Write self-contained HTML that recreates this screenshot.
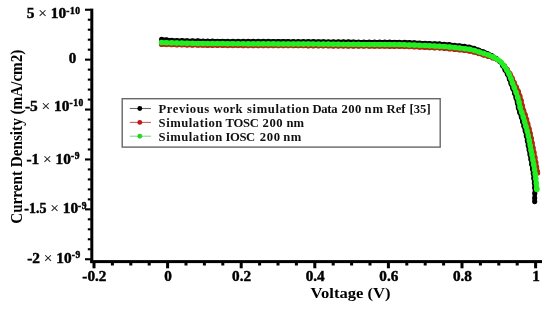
<!DOCTYPE html>
<html><head><meta charset="utf-8"><style>
html,body{margin:0;padding:0;background:#fff;}
svg{display:block;}
text{font-family:"Liberation Serif","Times New Roman",serif;font-weight:bold;fill:#000;}
.xt{font-size:14.5px;stroke:#000;stroke-width:0.45px;}
.yt{font-size:15px;stroke:#000;stroke-width:0.45px;}
.times{font-weight:normal;stroke-width:0.1px;}
.sup{font-size:9.3px;letter-spacing:0.6px;}
.xtitle{font-size:15.3px;}
.ytitle{font-size:16px;}
.lg{font-size:11.5px;fill:#111;}
</style></head><body>
<svg width="550" height="309" viewBox="0 0 550 309">
<rect width="550" height="309" fill="#fff"/>
<rect x="90.30" y="8.6" width="3" height="254.50" fill="#000"/>
<rect x="90.30" y="260.10" width="451.70" height="3" fill="#000"/>
<rect x="85" y="8.70" width="5.80" height="2.1" fill="#000"/>
<rect x="85" y="58.60" width="5.80" height="2.1" fill="#000"/>
<rect x="85" y="108.50" width="5.80" height="2.1" fill="#000"/>
<rect x="85" y="158.40" width="5.80" height="2.1" fill="#000"/>
<rect x="85" y="208.30" width="5.80" height="2.1" fill="#000"/>
<rect x="85" y="258.20" width="5.80" height="2.1" fill="#000"/>
<rect x="87.8" y="18.68" width="3.00" height="2.1" fill="#000"/>
<rect x="87.8" y="28.66" width="3.00" height="2.1" fill="#000"/>
<rect x="87.8" y="38.64" width="3.00" height="2.1" fill="#000"/>
<rect x="87.8" y="48.62" width="3.00" height="2.1" fill="#000"/>
<rect x="87.8" y="68.58" width="3.00" height="2.1" fill="#000"/>
<rect x="87.8" y="78.56" width="3.00" height="2.1" fill="#000"/>
<rect x="87.8" y="88.54" width="3.00" height="2.1" fill="#000"/>
<rect x="87.8" y="98.52" width="3.00" height="2.1" fill="#000"/>
<rect x="87.8" y="118.48" width="3.00" height="2.1" fill="#000"/>
<rect x="87.8" y="128.46" width="3.00" height="2.1" fill="#000"/>
<rect x="87.8" y="138.44" width="3.00" height="2.1" fill="#000"/>
<rect x="87.8" y="148.42" width="3.00" height="2.1" fill="#000"/>
<rect x="87.8" y="168.38" width="3.00" height="2.1" fill="#000"/>
<rect x="87.8" y="178.36" width="3.00" height="2.1" fill="#000"/>
<rect x="87.8" y="188.34" width="3.00" height="2.1" fill="#000"/>
<rect x="87.8" y="198.32" width="3.00" height="2.1" fill="#000"/>
<rect x="87.8" y="218.28" width="3.00" height="2.1" fill="#000"/>
<rect x="87.8" y="228.26" width="3.00" height="2.1" fill="#000"/>
<rect x="87.8" y="238.24" width="3.00" height="2.1" fill="#000"/>
<rect x="87.8" y="248.22" width="3.00" height="2.1" fill="#000"/>
<rect x="92.50" y="261.60" width="3" height="6.70" fill="#000"/>
<rect x="166.10" y="261.60" width="3" height="6.70" fill="#000"/>
<rect x="239.70" y="261.60" width="3" height="6.70" fill="#000"/>
<rect x="313.30" y="261.60" width="3" height="6.70" fill="#000"/>
<rect x="386.90" y="261.60" width="3" height="6.70" fill="#000"/>
<rect x="460.50" y="261.60" width="3" height="6.70" fill="#000"/>
<rect x="534.10" y="261.60" width="3" height="6.70" fill="#000"/>
<rect x="110.90" y="261.60" width="3" height="3.90" fill="#000"/>
<rect x="129.30" y="261.60" width="3" height="3.90" fill="#000"/>
<rect x="147.70" y="261.60" width="3" height="3.90" fill="#000"/>
<rect x="184.50" y="261.60" width="3" height="3.90" fill="#000"/>
<rect x="202.90" y="261.60" width="3" height="3.90" fill="#000"/>
<rect x="221.30" y="261.60" width="3" height="3.90" fill="#000"/>
<rect x="258.10" y="261.60" width="3" height="3.90" fill="#000"/>
<rect x="276.50" y="261.60" width="3" height="3.90" fill="#000"/>
<rect x="294.90" y="261.60" width="3" height="3.90" fill="#000"/>
<rect x="331.70" y="261.60" width="3" height="3.90" fill="#000"/>
<rect x="350.10" y="261.60" width="3" height="3.90" fill="#000"/>
<rect x="368.50" y="261.60" width="3" height="3.90" fill="#000"/>
<rect x="405.30" y="261.60" width="3" height="3.90" fill="#000"/>
<rect x="423.70" y="261.60" width="3" height="3.90" fill="#000"/>
<rect x="442.10" y="261.60" width="3" height="3.90" fill="#000"/>
<rect x="478.90" y="261.60" width="3" height="3.90" fill="#000"/>
<rect x="497.30" y="261.60" width="3" height="3.90" fill="#000"/>
<rect x="515.70" y="261.60" width="3" height="3.90" fill="#000"/>
<text transform="translate(94.40,281.3) scale(1.05,1)" class="xt" text-anchor="middle">-0.2</text>
<text transform="translate(168.00,281.3) scale(1.05,1)" class="xt" text-anchor="middle">0</text>
<text transform="translate(241.60,281.3) scale(1.05,1)" class="xt" text-anchor="middle">0.2</text>
<text transform="translate(315.20,281.3) scale(1.05,1)" class="xt" text-anchor="middle">0.4</text>
<text transform="translate(388.80,281.3) scale(1.05,1)" class="xt" text-anchor="middle">0.6</text>
<text transform="translate(462.40,281.3) scale(1.05,1)" class="xt" text-anchor="middle">0.8</text>
<text transform="translate(536.00,281.3) scale(1.05,1)" class="xt" text-anchor="middle">1</text>
<text transform="translate(26.8,17.9) scale(1.025,1)" class="yt"><tspan>5</tspan> <tspan class="times">×</tspan> 10<tspan class="sup" dy="-4.1">-10</tspan></text>
<text transform="translate(24.9,110.5) scale(1.025,1)" class="yt"><tspan>-5</tspan> <tspan class="times">×</tspan> 10<tspan class="sup" dy="-4.1">-10</tspan></text>
<text transform="translate(26.4,163.5) scale(1.025,1)" class="yt"><tspan>-1</tspan> <tspan class="times">×</tspan> 10<tspan class="sup" dy="-4.1">-9</tspan></text>
<text transform="translate(24.3,212.8) scale(1.025,1)" class="yt"><tspan style="font-size:13.6px">-1.5</tspan> <tspan class="times">×</tspan> 10<tspan class="sup" dy="-4.1">-9</tspan></text>
<text transform="translate(27.2,262.5) scale(1.025,1)" class="yt"><tspan>-2</tspan> <tspan class="times">×</tspan> 10<tspan class="sup" dy="-4.1">-9</tspan></text>
<text x="76.3" y="62.9" class="yt" text-anchor="end">0</text>
<text x="310.6" y="298.2" class="xtitle" textLength="80" lengthAdjust="spacingAndGlyphs">Voltage (V)</text>
<text transform="translate(21.6,223.8) rotate(-90)" class="ytitle" textLength="174.2" lengthAdjust="spacingAndGlyphs">Current Density (mA/cm2)</text>
<path d="M161.57,39.43 L162.99,39.53 L164.69,39.66 L166.62,39.81 L167.67,39.89 L168.77,39.98 L169.92,40.07 L171.12,40.16 L172.36,40.26 L173.64,40.36 L174.95,40.46 L176.30,40.49 L177.68,40.53 L179.09,40.56 L180.52,40.59 L181.98,40.62 L183.45,40.66 L184.94,40.69 L186.44,40.72 L187.95,40.75 L189.47,40.78 L190.99,40.81 L192.52,40.84 L194.04,40.87 L195.55,40.89 L197.06,40.92 L198.55,40.94 L200.03,40.96 L201.52,40.98 L203.03,41.00 L204.56,41.02 L206.12,41.04 L207.69,41.06 L209.29,41.08 L210.90,41.10 L212.53,41.11 L214.18,41.13 L215.84,41.15 L217.51,41.16 L219.19,41.18 L220.89,41.19 L222.59,41.21 L224.30,41.22 L226.02,41.23 L227.74,41.25 L229.46,41.26 L231.19,41.27 L232.92,41.28 L234.65,41.30 L236.38,41.31 L238.11,41.32 L239.83,41.33 L241.55,41.34 L243.26,41.35 L244.96,41.36 L246.66,41.37 L248.34,41.38 L250.01,41.39 L251.68,41.40 L253.34,41.41 L255.01,41.41 L256.67,41.42 L258.34,41.42 L260.01,41.43 L261.67,41.43 L263.34,41.44 L265.00,41.44 L266.67,41.44 L268.34,41.44 L270.00,41.45 L271.67,41.45 L273.33,41.45 L275.00,41.45 L276.67,41.45 L278.33,41.46 L280.00,41.46 L281.67,41.46 L283.34,41.46 L285.00,41.46 L286.67,41.47 L288.34,41.47 L290.01,41.48 L291.67,41.48 L293.34,41.49 L295.01,41.49 L296.68,41.50 L298.34,41.51 L300.01,41.51 L301.68,41.52 L303.35,41.53 L305.01,41.55 L306.68,41.56 L308.35,41.57 L310.02,41.58 L311.68,41.60 L313.35,41.61 L315.02,41.62 L316.69,41.64 L318.35,41.65 L320.02,41.67 L321.69,41.68 L323.35,41.70 L325.02,41.72 L326.69,41.73 L328.35,41.75 L330.02,41.76 L331.69,41.78 L333.35,41.79 L335.02,41.81 L336.69,41.83 L338.35,41.84 L340.02,41.86 L341.69,41.87 L343.35,41.89 L345.02,41.90 L346.68,41.91 L348.35,41.93 L350.02,41.94 L351.69,41.95 L353.39,41.96 L355.10,41.97 L356.83,41.98 L358.57,41.99 L360.33,42.00 L362.09,42.00 L363.86,42.01 L365.64,42.02 L367.41,42.02 L369.19,42.03 L370.97,42.04 L372.74,42.04 L374.50,42.05 L376.26,42.05 L378.00,42.06 L379.73,42.07 L381.45,42.08 L383.15,42.09 L384.83,42.10 L386.48,42.11 L388.12,42.12 L389.72,42.13 L391.30,42.15 L392.85,42.16 L394.36,42.18 L395.84,42.20 L397.28,42.22 L398.68,42.24 L400.04,42.27 L401.37,42.29 L402.67,42.32 L403.95,42.36 L405.20,42.39 L406.42,42.43 L407.63,42.46 L408.81,42.50 L409.96,42.54 L411.09,42.59 L412.20,42.63 L413.29,42.67 L414.36,42.72 L415.40,42.77 L416.42,42.81 L417.91,42.88 L419.83,42.98 L421.67,43.07 L423.43,43.16 L425.11,43.25 L426.73,43.33 L428.27,43.40 L429.74,43.47 L431.13,43.53 L432.38,43.58 L433.51,43.62 L434.77,43.67 L436.10,43.72 L437.29,43.77 L438.37,43.81 L439.41,43.86 L440.45,43.92 L441.55,43.98 L442.74,44.06 L444.05,44.16 L445.35,44.27 L446.65,44.39 L447.95,44.51 L449.24,44.64 L450.54,44.78 L451.84,44.92 L453.15,45.06 L454.47,45.21 L455.80,45.36 L457.16,45.51 L458.56,45.66 L460.00,45.81 L461.47,45.96 L462.95,46.12 L464.42,46.28 L465.87,46.48 L467.29,46.73 L468.66,46.99 L469.96,47.27 L471.19,47.55 L472.34,47.86 L473.43,48.17 L474.47,48.49 L475.46,48.82 L476.73,49.27 L477.97,49.72 L479.21,50.18 L480.16,50.53 L481.16,50.89 L482.21,51.28 L483.29,51.68 L484.38,52.09 L485.46,52.50 L486.50,52.98 L487.50,53.44 L488.44,53.88 L489.57,54.43 L490.64,54.96 L491.61,55.48 L492.52,56.04 L493.40,56.66 L494.28,57.27 L495.18,57.86 L496.07,58.45 L497.00,59.06 L497.92,59.71 L498.75,60.43 L499.48,61.15 L500.12,61.89 L500.84,62.82 L501.51,63.77 L502.14,64.74 L502.74,65.69 L503.30,66.62 L503.81,67.55 L504.29,68.48 L504.76,69.43 L505.29,70.34 L505.81,71.23 L506.30,72.11 L506.77,72.98 L507.21,73.86 L507.64,74.75 L508.04,75.66 L508.41,76.59 L508.78,77.54 L509.15,78.54 L509.52,79.56 L509.90,80.59 L510.26,81.64 L510.63,82.74 L510.99,83.78 L511.35,84.78 L511.73,85.81 L512.13,86.85 L512.55,87.90 L512.97,88.98 L513.40,90.11 L513.74,91.06 L514.09,92.08 L514.46,93.18 L514.84,94.34 L515.23,95.54 L515.61,96.77 L515.99,98.01 L516.35,99.24 L516.68,100.44 L516.98,101.62 L517.25,102.83 L517.51,104.07 L517.77,105.32 L518.02,106.57 L518.29,107.79 L518.58,108.99 L518.89,110.13 L519.26,111.30 L519.66,112.38 L520.05,113.41 L520.45,114.48 L520.81,115.56 L521.12,116.56 L521.48,117.77 L521.88,119.15 L522.18,120.14 L522.48,121.19 L522.79,122.27 L523.12,123.40 L523.44,124.54 L523.77,125.71 L524.09,126.88 L524.41,128.05 L524.72,129.22 L525.02,130.37 L525.30,131.49 L525.57,132.58 L525.82,133.64 L526.06,134.71 L526.30,135.79 L526.52,136.87 L526.74,137.95 L526.96,139.04 L527.17,140.12 L527.37,141.20 L527.58,142.29 L527.78,143.36 L527.97,144.43 L528.17,145.49 L528.37,146.54 L528.56,147.58 L528.76,148.61 L528.96,149.62 L529.15,150.62 L529.39,151.85 L529.67,153.30 L529.95,154.73 L530.22,156.14 L530.49,157.54 L530.75,158.92 L531.01,160.30 L531.25,161.67 L531.50,163.03 L531.73,164.40 L531.96,165.74 L532.19,167.07 L532.41,168.39 L532.63,169.70 L532.83,171.01 L533.03,172.31 L533.22,173.62 L533.40,174.93 L533.58,176.24 L533.74,177.62 L533.88,178.85 L533.98,179.87 L534.08,180.91 L534.18,181.95 L534.28,182.99 L534.37,184.01 L534.48,185.23 L534.60,186.60 L534.70,187.83 L534.81,189.02 L534.83,190.76 L534.79,193.16 L534.75,195.56 L534.71,197.96 L534.67,200.36 L534.65,201.56" fill="none" stroke="#000000" stroke-width="4.2" stroke-linecap="round" stroke-linejoin="round"/>
<g fill="#000000"><circle cx="161.6" cy="39.4" r="2.55"/><circle cx="166.6" cy="39.8" r="2.55"/><circle cx="171.7" cy="40.2" r="2.55"/><circle cx="177.0" cy="40.5" r="2.55"/><circle cx="182.0" cy="40.6" r="2.55"/><circle cx="187.2" cy="40.7" r="2.55"/><circle cx="192.5" cy="40.8" r="2.55"/><circle cx="197.8" cy="40.9" r="2.55"/><circle cx="203.0" cy="41.0" r="2.55"/><circle cx="207.7" cy="41.1" r="2.55"/><circle cx="212.5" cy="41.1" r="2.55"/><circle cx="217.5" cy="41.2" r="2.55"/><circle cx="222.6" cy="41.2" r="2.55"/><circle cx="227.7" cy="41.2" r="2.55"/><circle cx="232.9" cy="41.3" r="2.55"/><circle cx="238.1" cy="41.3" r="2.55"/><circle cx="243.3" cy="41.4" r="2.55"/><circle cx="248.3" cy="41.4" r="2.55"/><circle cx="253.3" cy="41.4" r="2.55"/><circle cx="258.3" cy="41.4" r="2.55"/><circle cx="263.3" cy="41.4" r="2.55"/><circle cx="268.3" cy="41.4" r="2.55"/><circle cx="273.3" cy="41.5" r="2.55"/><circle cx="278.3" cy="41.5" r="2.55"/><circle cx="283.3" cy="41.5" r="2.55"/><circle cx="288.3" cy="41.5" r="2.55"/><circle cx="293.3" cy="41.5" r="2.55"/><circle cx="298.3" cy="41.5" r="2.55"/><circle cx="303.3" cy="41.5" r="2.55"/><circle cx="308.3" cy="41.6" r="2.55"/><circle cx="313.4" cy="41.6" r="2.55"/><circle cx="318.4" cy="41.7" r="2.55"/><circle cx="323.4" cy="41.7" r="2.55"/><circle cx="328.4" cy="41.7" r="2.55"/><circle cx="333.4" cy="41.8" r="2.55"/><circle cx="338.4" cy="41.8" r="2.55"/><circle cx="343.4" cy="41.9" r="2.55"/><circle cx="348.4" cy="41.9" r="2.55"/><circle cx="353.4" cy="42.0" r="2.55"/><circle cx="358.6" cy="42.0" r="2.55"/><circle cx="363.9" cy="42.0" r="2.55"/><circle cx="369.2" cy="42.0" r="2.55"/><circle cx="374.5" cy="42.0" r="2.55"/><circle cx="379.7" cy="42.1" r="2.55"/><circle cx="384.8" cy="42.1" r="2.55"/><circle cx="389.7" cy="42.1" r="2.55"/><circle cx="394.4" cy="42.2" r="2.55"/><circle cx="399.4" cy="42.3" r="2.55"/><circle cx="404.6" cy="42.4" r="2.55"/><circle cx="409.4" cy="42.5" r="2.55"/><circle cx="414.4" cy="42.7" r="2.55"/><circle cx="419.8" cy="43.0" r="2.55"/><circle cx="425.1" cy="43.2" r="2.55"/><circle cx="429.7" cy="43.5" r="2.55"/><circle cx="434.8" cy="43.7" r="2.55"/><circle cx="439.4" cy="43.9" r="2.55"/><circle cx="444.0" cy="44.2" r="2.55"/><circle cx="449.2" cy="44.6" r="2.55"/><circle cx="454.5" cy="45.2" r="2.55"/><circle cx="459.3" cy="45.7" r="2.55"/><circle cx="464.4" cy="46.3" r="2.55"/><circle cx="469.3" cy="47.1" r="2.55"/><circle cx="474.0" cy="48.3" r="2.55"/><circle cx="478.6" cy="50.0" r="2.55"/><circle cx="483.3" cy="51.7" r="2.55"/><circle cx="488.0" cy="53.7" r="2.55"/><circle cx="492.1" cy="55.8" r="2.55"/><circle cx="496.1" cy="58.4" r="2.55"/><circle cx="499.8" cy="61.5" r="2.55"/><circle cx="502.7" cy="65.7" r="2.55"/><circle cx="505.0" cy="69.9" r="2.55"/><circle cx="507.4" cy="74.3" r="2.55"/><circle cx="509.3" cy="79.0" r="2.55"/><circle cx="511.0" cy="83.8" r="2.55"/><circle cx="512.8" cy="88.4" r="2.55"/><circle cx="514.5" cy="93.2" r="2.55"/><circle cx="516.0" cy="98.0" r="2.55"/><circle cx="517.3" cy="102.8" r="2.55"/><circle cx="518.3" cy="107.8" r="2.55"/><circle cx="519.7" cy="112.4" r="2.55"/><circle cx="521.3" cy="117.1" r="2.55"/><circle cx="522.6" cy="121.7" r="2.55"/><circle cx="523.9" cy="126.3" r="2.55"/><circle cx="525.2" cy="130.9" r="2.55"/><circle cx="526.3" cy="135.8" r="2.55"/><circle cx="527.3" cy="140.7" r="2.55"/><circle cx="528.2" cy="145.5" r="2.55"/><circle cx="529.1" cy="150.1" r="2.55"/><circle cx="530.0" cy="154.7" r="2.55"/><circle cx="530.9" cy="159.6" r="2.55"/><circle cx="531.7" cy="164.4" r="2.55"/><circle cx="532.5" cy="169.0" r="2.55"/><circle cx="533.2" cy="173.6" r="2.55"/><circle cx="533.8" cy="178.4" r="2.55"/><circle cx="534.3" cy="183.0" r="2.55"/><circle cx="534.7" cy="187.8" r="2.55"/><circle cx="534.8" cy="193.2" r="2.55"/><circle cx="534.7" cy="198.0" r="2.55"/><circle cx="534.7" cy="201.6" r="2.55"/></g>
<path d="M161.46,44.50 L162.88,44.53 L164.57,44.57 L166.51,44.61 L167.56,44.64 L168.66,44.67 L169.81,44.69 L171.01,44.72 L172.25,44.75 L173.53,44.78 L174.85,44.81 L176.20,44.84 L177.58,44.87 L178.99,44.91 L180.43,44.94 L181.88,44.97 L183.36,45.00 L184.85,45.03 L186.35,45.06 L187.87,45.09 L189.39,45.12 L190.91,45.15 L192.44,45.18 L193.96,45.21 L195.48,45.23 L196.99,45.26 L198.49,45.28 L199.97,45.30 L201.46,45.32 L202.98,45.34 L204.51,45.36 L206.07,45.38 L207.65,45.39 L209.24,45.41 L210.86,45.43 L212.49,45.44 L214.14,45.46 L215.80,45.47 L217.47,45.49 L219.16,45.50 L220.85,45.52 L222.56,45.53 L224.27,45.54 L225.98,45.56 L227.71,45.57 L229.44,45.58 L231.16,45.59 L232.90,45.60 L234.63,45.61 L236.36,45.63 L238.08,45.64 L239.81,45.65 L241.52,45.66 L243.23,45.66 L244.94,45.67 L246.63,45.68 L248.32,45.69 L249.99,45.70 L251.66,45.71 L253.33,45.71 L254.99,45.72 L256.66,45.73 L258.33,45.73 L260.00,45.73 L261.66,45.74 L263.33,45.74 L265.00,45.74 L266.66,45.74 L268.33,45.75 L270.00,45.75 L271.67,45.75 L273.33,45.75 L275.00,45.75 L276.67,45.75 L278.33,45.75 L280.00,45.75 L281.67,45.75 L283.33,45.76 L285.00,45.76 L286.66,45.76 L288.33,45.76 L290.00,45.77 L291.66,45.77 L293.33,45.77 L294.99,45.78 L296.66,45.79 L298.32,45.79 L299.99,45.80 L301.66,45.81 L303.32,45.82 L304.99,45.83 L306.65,45.84 L308.32,45.85 L309.99,45.86 L311.65,45.87 L313.32,45.89 L314.98,45.90 L316.65,45.91 L318.32,45.93 L319.98,45.94 L321.65,45.96 L323.32,45.97 L324.98,45.99 L326.65,46.00 L328.32,46.02 L329.98,46.03 L331.65,46.05 L333.32,46.06 L334.98,46.08 L336.65,46.09 L338.32,46.11 L339.98,46.12 L341.65,46.14 L343.32,46.15 L344.99,46.16 L346.65,46.18 L348.32,46.19 L349.99,46.20 L351.67,46.21 L353.36,46.22 L355.08,46.23 L356.81,46.24 L358.56,46.25 L360.31,46.25 L362.08,46.26 L363.85,46.26 L365.62,46.27 L367.40,46.27 L369.18,46.28 L370.95,46.28 L372.73,46.29 L374.49,46.29 L376.24,46.30 L377.99,46.31 L379.72,46.31 L381.43,46.32 L383.13,46.33 L384.80,46.34 L386.46,46.35 L388.09,46.36 L389.69,46.37 L391.26,46.38 L392.80,46.40 L394.31,46.42 L395.78,46.43 L397.22,46.45 L398.61,46.48 L399.96,46.50 L401.28,46.53 L402.57,46.55 L403.84,46.59 L405.08,46.62 L406.30,46.65 L407.49,46.69 L408.66,46.73 L409.81,46.77 L410.93,46.81 L412.04,46.85 L413.12,46.90 L414.17,46.94 L415.21,46.99 L416.23,47.03 L417.71,47.10 L419.62,47.19 L421.46,47.29 L423.22,47.38 L424.90,47.46 L426.52,47.54 L428.07,47.62 L429.56,47.68 L430.96,47.74 L432.22,47.79 L433.35,47.84 L434.61,47.88 L435.95,47.93 L437.12,47.98 L438.19,48.02 L439.20,48.07 L440.21,48.12 L441.28,48.19 L442.44,48.26 L443.72,48.36 L444.99,48.46 L446.27,48.58 L447.54,48.70 L448.82,48.83 L450.10,48.96 L451.39,49.10 L452.69,49.24 L454.01,49.39 L455.34,49.54 L456.71,49.69 L458.13,49.84 L459.57,49.99 L461.03,50.14 L462.49,50.29 L463.94,50.45 L465.36,50.62 L466.73,50.78 L468.04,50.96 L469.27,51.15 L470.41,51.36 L471.49,51.58 L472.51,51.82 L473.48,52.07 L474.42,52.32 L475.66,52.69 L476.89,53.07 L478.16,53.47 L479.14,53.77 L480.16,54.07 L481.21,54.40 L482.29,54.74 L483.38,55.09 L484.47,55.44 L485.57,55.70 L486.62,55.95 L487.61,56.20 L488.80,56.51 L489.90,56.81 L490.87,57.11 L491.77,57.45 L492.70,57.88 L493.70,58.34 L494.70,58.76 L495.69,59.17 L496.70,59.61 L497.70,60.07 L498.65,60.57 L499.51,61.11 L500.30,61.70 L501.20,62.48 L502.05,63.31 L502.89,64.13 L503.69,64.95 L504.46,65.78 L505.17,66.63 L505.85,67.50 L506.49,68.36 L507.12,69.22 L507.74,70.07 L508.34,70.93 L508.92,71.80 L509.49,72.69 L510.03,73.61 L510.54,74.56 L511.01,75.52 L511.48,76.49 L511.94,77.46 L512.42,78.46 L512.89,79.49 L513.36,80.54 L513.82,81.60 L514.26,82.59 L514.69,83.52 L515.14,84.47 L515.63,85.43 L516.14,86.43 L516.68,87.49 L517.23,88.63 L517.68,89.62 L518.14,90.65 L518.58,91.75 L518.99,92.94 L519.40,94.17 L519.81,95.43 L520.21,96.71 L520.60,97.99 L520.96,99.26 L521.30,100.54 L521.61,101.84 L521.89,103.13 L522.16,104.39 L522.42,105.62 L522.67,106.78 L522.94,107.87 L523.20,108.85 L523.52,109.84 L523.87,110.79 L524.27,111.82 L524.70,112.99 L525.10,114.18 L525.43,115.25 L525.80,116.49 L526.21,117.87 L526.50,118.87 L526.81,119.93 L527.13,121.02 L527.45,122.15 L527.78,123.31 L528.12,124.49 L528.44,125.68 L528.77,126.88 L529.09,128.06 L529.39,129.24 L529.69,130.39 L529.96,131.52 L530.22,132.62 L530.47,133.73 L530.71,134.84 L530.95,135.95 L531.17,137.06 L531.39,138.16 L531.61,139.27 L531.81,140.36 L532.02,141.45 L532.22,142.54 L532.42,143.61 L532.61,144.67 L532.81,145.71 L533.00,146.74 L533.19,147.76 L533.39,148.76 L533.58,149.75 L533.82,150.98 L534.10,152.43 L534.38,153.87 L534.65,155.29 L534.92,156.69 L535.19,158.09 L535.44,159.48 L535.69,160.87 L535.94,162.25 L536.18,163.62 L536.41,164.98 L536.64,166.32 L536.86,167.65 L537.08,168.98 L537.29,170.31 L537.49,171.64 L537.69,172.98 L537.69,172.98" fill="none" stroke="#b02a14" stroke-width="4.2" stroke-linecap="round" stroke-linejoin="round"/>
<g fill="#b02a14"><circle cx="161.5" cy="44.5" r="2.55"/><circle cx="166.5" cy="44.6" r="2.55"/><circle cx="171.6" cy="44.7" r="2.55"/><circle cx="176.9" cy="44.9" r="2.55"/><circle cx="181.9" cy="45.0" r="2.55"/><circle cx="187.1" cy="45.1" r="2.55"/><circle cx="192.4" cy="45.2" r="2.55"/><circle cx="197.7" cy="45.3" r="2.55"/><circle cx="203.0" cy="45.3" r="2.55"/><circle cx="207.6" cy="45.4" r="2.55"/><circle cx="212.5" cy="45.4" r="2.55"/><circle cx="217.5" cy="45.5" r="2.55"/><circle cx="222.6" cy="45.5" r="2.55"/><circle cx="227.7" cy="45.6" r="2.55"/><circle cx="232.9" cy="45.6" r="2.55"/><circle cx="238.1" cy="45.6" r="2.55"/><circle cx="243.2" cy="45.7" r="2.55"/><circle cx="248.3" cy="45.7" r="2.55"/><circle cx="253.3" cy="45.7" r="2.55"/><circle cx="258.3" cy="45.7" r="2.55"/><circle cx="263.3" cy="45.7" r="2.55"/><circle cx="268.3" cy="45.7" r="2.55"/><circle cx="273.3" cy="45.7" r="2.55"/><circle cx="278.3" cy="45.8" r="2.55"/><circle cx="283.3" cy="45.8" r="2.55"/><circle cx="288.3" cy="45.8" r="2.55"/><circle cx="293.3" cy="45.8" r="2.55"/><circle cx="298.3" cy="45.8" r="2.55"/><circle cx="303.3" cy="45.8" r="2.55"/><circle cx="308.3" cy="45.9" r="2.55"/><circle cx="313.3" cy="45.9" r="2.55"/><circle cx="318.3" cy="45.9" r="2.55"/><circle cx="323.3" cy="46.0" r="2.55"/><circle cx="328.3" cy="46.0" r="2.55"/><circle cx="333.3" cy="46.1" r="2.55"/><circle cx="338.3" cy="46.1" r="2.55"/><circle cx="343.3" cy="46.1" r="2.55"/><circle cx="348.3" cy="46.2" r="2.55"/><circle cx="353.4" cy="46.2" r="2.55"/><circle cx="358.6" cy="46.2" r="2.55"/><circle cx="363.8" cy="46.3" r="2.55"/><circle cx="369.2" cy="46.3" r="2.55"/><circle cx="374.5" cy="46.3" r="2.55"/><circle cx="379.7" cy="46.3" r="2.55"/><circle cx="384.8" cy="46.3" r="2.55"/><circle cx="389.7" cy="46.4" r="2.55"/><circle cx="394.3" cy="46.4" r="2.55"/><circle cx="399.3" cy="46.5" r="2.55"/><circle cx="404.5" cy="46.6" r="2.55"/><circle cx="409.2" cy="46.7" r="2.55"/><circle cx="414.2" cy="46.9" r="2.55"/><circle cx="419.6" cy="47.2" r="2.55"/><circle cx="424.9" cy="47.5" r="2.55"/><circle cx="429.6" cy="47.7" r="2.55"/><circle cx="434.6" cy="47.9" r="2.55"/><circle cx="439.7" cy="48.1" r="2.55"/><circle cx="444.4" cy="48.4" r="2.55"/><circle cx="449.5" cy="48.9" r="2.55"/><circle cx="454.7" cy="49.5" r="2.55"/><circle cx="459.6" cy="50.0" r="2.55"/><circle cx="464.7" cy="50.5" r="2.55"/><circle cx="469.3" cy="51.2" r="2.55"/><circle cx="474.0" cy="52.2" r="2.55"/><circle cx="478.6" cy="53.6" r="2.55"/><circle cx="483.4" cy="55.1" r="2.55"/><circle cx="488.2" cy="56.4" r="2.55"/><circle cx="492.7" cy="57.9" r="2.55"/><circle cx="497.2" cy="59.8" r="2.55"/><circle cx="501.2" cy="62.5" r="2.55"/><circle cx="504.5" cy="65.8" r="2.55"/><circle cx="507.4" cy="69.6" r="2.55"/><circle cx="510.0" cy="73.6" r="2.55"/><circle cx="512.2" cy="78.0" r="2.55"/><circle cx="514.3" cy="82.6" r="2.55"/><circle cx="516.4" cy="87.0" r="2.55"/><circle cx="518.4" cy="91.2" r="2.55"/><circle cx="520.0" cy="96.1" r="2.55"/><circle cx="521.3" cy="100.5" r="2.55"/><circle cx="522.4" cy="105.6" r="2.55"/><circle cx="523.7" cy="110.3" r="2.55"/><circle cx="525.3" cy="114.7" r="2.55"/><circle cx="526.7" cy="119.4" r="2.55"/><circle cx="527.9" cy="123.9" r="2.55"/><circle cx="529.2" cy="128.7" r="2.55"/><circle cx="530.3" cy="133.2" r="2.55"/><circle cx="531.4" cy="138.2" r="2.55"/><circle cx="532.3" cy="143.1" r="2.55"/><circle cx="533.2" cy="147.8" r="2.55"/><circle cx="534.1" cy="152.4" r="2.55"/><circle cx="535.1" cy="157.4" r="2.55"/><circle cx="535.9" cy="162.3" r="2.55"/><circle cx="536.7" cy="167.0" r="2.55"/><circle cx="537.5" cy="171.6" r="2.55"/><circle cx="537.7" cy="173.0" r="2.55"/></g>
<path d="M161.50,42.60 L162.92,42.63 L164.62,42.67 L166.55,42.72 L167.60,42.74 L168.71,42.77 L169.86,42.79 L171.06,42.82 L172.30,42.85 L173.58,42.88 L174.89,42.91 L176.24,42.94 L177.62,42.97 L179.03,43.01 L180.47,43.04 L181.92,43.07 L183.40,43.10 L184.89,43.13 L186.39,43.16 L187.90,43.19 L189.42,43.22 L190.95,43.25 L192.47,43.28 L193.99,43.31 L195.51,43.33 L197.02,43.36 L198.52,43.38 L200.00,43.40 L201.49,43.42 L203.00,43.44 L204.53,43.46 L206.09,43.48 L207.67,43.49 L209.26,43.51 L210.88,43.53 L212.51,43.54 L214.15,43.56 L215.81,43.57 L217.49,43.59 L219.17,43.60 L220.87,43.62 L222.57,43.63 L224.28,43.64 L226.00,43.66 L227.72,43.67 L229.45,43.68 L231.18,43.69 L232.91,43.70 L234.64,43.71 L236.37,43.73 L238.09,43.74 L239.82,43.75 L241.53,43.76 L243.24,43.76 L244.95,43.77 L246.64,43.78 L248.33,43.79 L250.00,43.80 L251.67,43.81 L253.33,43.81 L255.00,43.82 L256.67,43.83 L258.33,43.83 L260.00,43.83 L261.67,43.84 L263.33,43.84 L265.00,43.84 L266.67,43.84 L268.33,43.85 L270.00,43.85 L271.67,43.85 L273.33,43.85 L275.00,43.85 L276.67,43.85 L278.33,43.85 L280.00,43.85 L281.67,43.85 L283.33,43.86 L285.00,43.86 L286.67,43.86 L288.33,43.86 L290.00,43.87 L291.67,43.87 L293.33,43.87 L295.00,43.88 L296.67,43.89 L298.33,43.89 L300.00,43.90 L301.67,43.91 L303.33,43.92 L305.00,43.93 L306.67,43.94 L308.33,43.95 L310.00,43.96 L311.67,43.97 L313.33,43.99 L315.00,44.00 L316.67,44.01 L318.33,44.03 L320.00,44.04 L321.67,44.06 L323.33,44.07 L325.00,44.09 L326.67,44.10 L328.33,44.12 L330.00,44.13 L331.67,44.15 L333.33,44.16 L335.00,44.18 L336.67,44.19 L338.33,44.21 L340.00,44.22 L341.67,44.24 L343.33,44.25 L345.00,44.26 L346.67,44.28 L348.33,44.29 L350.00,44.30 L351.68,44.31 L353.37,44.32 L355.09,44.33 L356.82,44.34 L358.56,44.35 L360.32,44.35 L362.08,44.36 L363.85,44.36 L365.63,44.37 L367.41,44.37 L369.18,44.38 L370.96,44.38 L372.73,44.39 L374.49,44.39 L376.25,44.40 L377.99,44.41 L379.72,44.41 L381.44,44.42 L383.14,44.43 L384.81,44.44 L386.47,44.45 L388.10,44.46 L389.70,44.47 L391.28,44.48 L392.82,44.50 L394.33,44.52 L395.81,44.53 L397.25,44.55 L398.64,44.58 L400.00,44.60 L401.32,44.63 L402.62,44.66 L403.89,44.69 L405.13,44.72 L406.35,44.75 L407.55,44.79 L408.73,44.83 L409.88,44.87 L411.01,44.91 L412.11,44.96 L413.19,45.00 L414.26,45.04 L415.30,45.09 L416.31,45.14 L417.80,45.20 L419.72,45.30 L421.55,45.39 L423.31,45.48 L425.00,45.56 L426.61,45.64 L428.16,45.72 L429.64,45.78 L431.03,45.84 L432.29,45.89 L433.42,45.94 L434.69,45.98 L436.02,46.03 L437.19,46.08 L438.27,46.12 L439.30,46.17 L440.32,46.22 L441.40,46.29 L442.58,46.37 L443.86,46.47 L445.16,46.57 L446.44,46.69 L447.72,46.81 L449.01,46.94 L450.30,47.07 L451.59,47.21 L452.90,47.35 L454.22,47.50 L455.55,47.65 L456.91,47.80 L458.32,47.95 L459.77,48.10 L461.23,48.25 L462.70,48.40 L464.16,48.57 L465.59,48.74 L466.99,48.92 L468.33,49.12 L469.60,49.33 L470.78,49.55 L471.90,49.80 L472.95,50.05 L473.96,50.32 L474.93,50.60 L476.19,50.98 L477.44,51.38 L478.70,51.79 L479.67,52.10 L480.68,52.41 L481.74,52.75 L482.82,53.10 L483.92,53.46 L485.02,53.83 L486.08,54.19 L487.11,54.55 L488.08,54.89 L489.24,55.31 L490.33,55.73 L491.31,56.14 L492.23,56.58 L493.14,57.11 L494.08,57.64 L495.03,58.15 L495.97,58.64 L496.95,59.16 L497.91,59.72 L498.83,60.31 L499.66,60.93 L500.41,61.59 L501.26,62.43 L502.04,63.31 L502.79,64.21 L503.50,65.10 L504.17,65.99 L504.80,66.89 L505.38,67.79 L505.95,68.70 L506.50,69.60 L507.04,70.49 L507.56,71.38 L508.06,72.27 L508.54,73.17 L509.00,74.10 L509.43,75.04 L509.84,76.00 L510.22,76.98 L510.61,77.98 L511.00,79.00 L511.39,80.04 L511.77,81.10 L512.16,82.19 L512.53,83.22 L512.89,84.20 L513.27,85.21 L513.68,86.22 L514.11,87.26 L514.55,88.35 L515.01,89.49 L515.37,90.46 L515.74,91.50 L516.12,92.60 L516.52,93.77 L516.93,94.98 L517.33,96.22 L517.73,97.47 L518.11,98.72 L518.46,99.95 L518.78,101.17 L519.07,102.42 L519.35,103.68 L519.61,104.93 L519.87,106.17 L520.14,107.37 L520.42,108.51 L520.71,109.59 L521.06,110.69 L521.44,111.71 L521.84,112.74 L522.25,113.85 L522.62,114.98 L522.94,116.01 L523.31,117.23 L523.71,118.61 L524.01,119.61 L524.31,120.65 L524.63,121.74 L524.95,122.87 L525.28,124.02 L525.61,125.19 L525.94,126.37 L526.26,127.55 L526.57,128.73 L526.88,129.89 L527.16,131.02 L527.44,132.13 L527.69,133.21 L527.94,134.29 L528.17,135.38 L528.40,136.48 L528.63,137.57 L528.84,138.67 L529.06,139.76 L529.26,140.85 L529.47,141.93 L529.67,143.01 L529.87,144.08 L530.06,145.14 L530.26,146.19 L530.45,147.23 L530.65,148.25 L530.85,149.25 L531.04,150.25 L531.28,151.48 L531.57,152.93 L531.84,154.36 L532.12,155.78 L532.39,157.18 L532.65,158.57 L532.91,159.95 L533.16,161.32 L533.40,162.70 L533.64,164.07 L533.87,165.41 L534.10,166.75 L534.32,168.08 L534.54,169.39 L534.75,170.71 L534.95,172.02 L535.14,173.34 L535.33,174.67 L535.50,176.00 L535.67,177.40 L535.81,178.65 L535.91,179.68 L536.02,180.72 L536.12,181.77 L536.21,182.81 L536.30,183.83 L536.41,185.06 L536.53,186.44 L536.64,187.66 L536.74,188.85 L536.79,189.38" fill="none" stroke="#22ee22" stroke-width="4.7" stroke-linecap="round" stroke-linejoin="round"/>
<g fill="#22ee22"><circle cx="161.5" cy="42.6" r="2.75"/><circle cx="166.6" cy="42.7" r="2.75"/><circle cx="171.7" cy="42.8" r="2.75"/><circle cx="176.9" cy="43.0" r="2.75"/><circle cx="181.9" cy="43.1" r="2.75"/><circle cx="187.1" cy="43.2" r="2.75"/><circle cx="192.5" cy="43.3" r="2.75"/><circle cx="197.8" cy="43.4" r="2.75"/><circle cx="203.0" cy="43.4" r="2.75"/><circle cx="207.7" cy="43.5" r="2.75"/><circle cx="212.5" cy="43.5" r="2.75"/><circle cx="217.5" cy="43.6" r="2.75"/><circle cx="222.6" cy="43.6" r="2.75"/><circle cx="227.7" cy="43.7" r="2.75"/><circle cx="232.9" cy="43.7" r="2.75"/><circle cx="238.1" cy="43.7" r="2.75"/><circle cx="243.2" cy="43.8" r="2.75"/><circle cx="248.3" cy="43.8" r="2.75"/><circle cx="253.3" cy="43.8" r="2.75"/><circle cx="258.3" cy="43.8" r="2.75"/><circle cx="263.3" cy="43.8" r="2.75"/><circle cx="268.3" cy="43.8" r="2.75"/><circle cx="273.3" cy="43.8" r="2.75"/><circle cx="278.3" cy="43.9" r="2.75"/><circle cx="283.3" cy="43.9" r="2.75"/><circle cx="288.3" cy="43.9" r="2.75"/><circle cx="293.3" cy="43.9" r="2.75"/><circle cx="298.3" cy="43.9" r="2.75"/><circle cx="303.3" cy="43.9" r="2.75"/><circle cx="308.3" cy="44.0" r="2.75"/><circle cx="313.3" cy="44.0" r="2.75"/><circle cx="318.3" cy="44.0" r="2.75"/><circle cx="323.3" cy="44.1" r="2.75"/><circle cx="328.3" cy="44.1" r="2.75"/><circle cx="333.3" cy="44.2" r="2.75"/><circle cx="338.3" cy="44.2" r="2.75"/><circle cx="343.3" cy="44.2" r="2.75"/><circle cx="348.3" cy="44.3" r="2.75"/><circle cx="353.4" cy="44.3" r="2.75"/><circle cx="358.6" cy="44.3" r="2.75"/><circle cx="363.9" cy="44.4" r="2.75"/><circle cx="369.2" cy="44.4" r="2.75"/><circle cx="374.5" cy="44.4" r="2.75"/><circle cx="379.7" cy="44.4" r="2.75"/><circle cx="384.8" cy="44.4" r="2.75"/><circle cx="389.7" cy="44.5" r="2.75"/><circle cx="394.3" cy="44.5" r="2.75"/><circle cx="399.3" cy="44.6" r="2.75"/><circle cx="404.5" cy="44.7" r="2.75"/><circle cx="409.3" cy="44.9" r="2.75"/><circle cx="414.3" cy="45.0" r="2.75"/><circle cx="419.7" cy="45.3" r="2.75"/><circle cx="425.0" cy="45.6" r="2.75"/><circle cx="429.6" cy="45.8" r="2.75"/><circle cx="434.7" cy="46.0" r="2.75"/><circle cx="439.3" cy="46.2" r="2.75"/><circle cx="444.5" cy="46.5" r="2.75"/><circle cx="449.7" cy="47.0" r="2.75"/><circle cx="454.9" cy="47.6" r="2.75"/><circle cx="459.8" cy="48.1" r="2.75"/><circle cx="464.9" cy="48.7" r="2.75"/><circle cx="469.6" cy="49.3" r="2.75"/><circle cx="474.5" cy="50.5" r="2.75"/><circle cx="479.2" cy="51.9" r="2.75"/><circle cx="483.9" cy="53.5" r="2.75"/><circle cx="488.7" cy="55.1" r="2.75"/><circle cx="493.1" cy="57.1" r="2.75"/><circle cx="497.4" cy="59.4" r="2.75"/><circle cx="501.3" cy="62.4" r="2.75"/><circle cx="504.2" cy="66.0" r="2.75"/><circle cx="506.8" cy="70.0" r="2.75"/><circle cx="509.0" cy="74.1" r="2.75"/><circle cx="510.8" cy="78.5" r="2.75"/><circle cx="512.5" cy="83.2" r="2.75"/><circle cx="514.3" cy="87.8" r="2.75"/><circle cx="516.1" cy="92.6" r="2.75"/><circle cx="517.7" cy="97.5" r="2.75"/><circle cx="519.1" cy="102.4" r="2.75"/><circle cx="520.1" cy="107.4" r="2.75"/><circle cx="521.7" cy="112.3" r="2.75"/><circle cx="523.3" cy="117.2" r="2.75"/><circle cx="524.6" cy="121.7" r="2.75"/><circle cx="525.9" cy="126.4" r="2.75"/><circle cx="527.2" cy="131.0" r="2.75"/><circle cx="528.3" cy="135.9" r="2.75"/><circle cx="529.3" cy="140.8" r="2.75"/><circle cx="530.2" cy="145.7" r="2.75"/><circle cx="531.0" cy="150.2" r="2.75"/><circle cx="532.0" cy="155.1" r="2.75"/><circle cx="532.9" cy="159.9" r="2.75"/><circle cx="533.8" cy="164.7" r="2.75"/><circle cx="534.5" cy="169.4" r="2.75"/><circle cx="535.2" cy="174.0" r="2.75"/><circle cx="535.8" cy="178.6" r="2.75"/><circle cx="536.3" cy="183.3" r="2.75"/><circle cx="536.7" cy="188.2" r="2.75"/><circle cx="536.8" cy="189.4" r="2.75"/></g>
<rect x="122.2" y="98.7" width="318" height="48.4" fill="#fff" stroke="#666" stroke-width="1.4"/>
<line x1="129.8" y1="108.5" x2="151" y2="108.5" stroke="#666666" stroke-width="1.1"/>
<circle cx="139.8" cy="108.5" r="2.45" fill="#000000"/>
<text transform="translate(158.6,112.8) scale(1.1,1)" class="lg" textLength="46.00" lengthAdjust="spacing">Previous</text>
<text transform="translate(213.5,112.8) scale(1.1,1)" class="lg" textLength="26.36" lengthAdjust="spacing">work</text>
<text transform="translate(247.0,112.8) scale(1.1,1)" class="lg" textLength="56.64" lengthAdjust="spacing">simulation</text>
<text transform="translate(312.5,112.8) scale(1.1,1)" class="lg" textLength="22.82" lengthAdjust="spacing">Data</text>
<text transform="translate(341.6,112.8) scale(1.1,1)" class="lg" textLength="17.91" lengthAdjust="spacing">200</text>
<text transform="translate(364.5,112.8) scale(1.1,1)" class="lg" textLength="16.91" lengthAdjust="spacing">nm</text>
<text transform="translate(386.5,112.8) scale(1.1,1)" class="lg" textLength="17.36" lengthAdjust="spacing">Ref</text>
<text transform="translate(409.5,112.8) scale(1.1,1)" class="lg" textLength="19.27" lengthAdjust="spacing">[35]</text>
<line x1="129.8" y1="122.4" x2="151" y2="122.4" stroke="#b86868" stroke-width="1.1"/>
<circle cx="139.8" cy="122.4" r="2.45" fill="#c81414"/>
<text transform="translate(158.6,126.9) scale(1.1,1)" class="lg" textLength="58.00" lengthAdjust="spacing">Simulation</text>
<text transform="translate(225.6,126.9) scale(1.1,1)" class="lg" textLength="30.27" lengthAdjust="spacing">TOSC</text>
<text transform="translate(262.5,126.9) scale(1.1,1)" class="lg" textLength="18.36" lengthAdjust="spacing">200</text>
<text transform="translate(286.5,126.9) scale(1.1,1)" class="lg" textLength="15.91" lengthAdjust="spacing">nm</text>
<line x1="129.8" y1="136.2" x2="151" y2="136.2" stroke="#8fd08f" stroke-width="1.1"/>
<circle cx="139.8" cy="136.2" r="2.45" fill="#2ad42a"/>
<text transform="translate(158.6,141.0) scale(1.1,1)" class="lg" textLength="58.00" lengthAdjust="spacing">Simulation</text>
<text transform="translate(225.6,141.0) scale(1.1,1)" class="lg" textLength="26.82" lengthAdjust="spacing">IOSC</text>
<text transform="translate(259.8,141.0) scale(1.1,1)" class="lg" textLength="18.36" lengthAdjust="spacing">200</text>
<text transform="translate(283.3,141.0) scale(1.1,1)" class="lg" textLength="16.36" lengthAdjust="spacing">nm</text>
</svg>
</body></html>
